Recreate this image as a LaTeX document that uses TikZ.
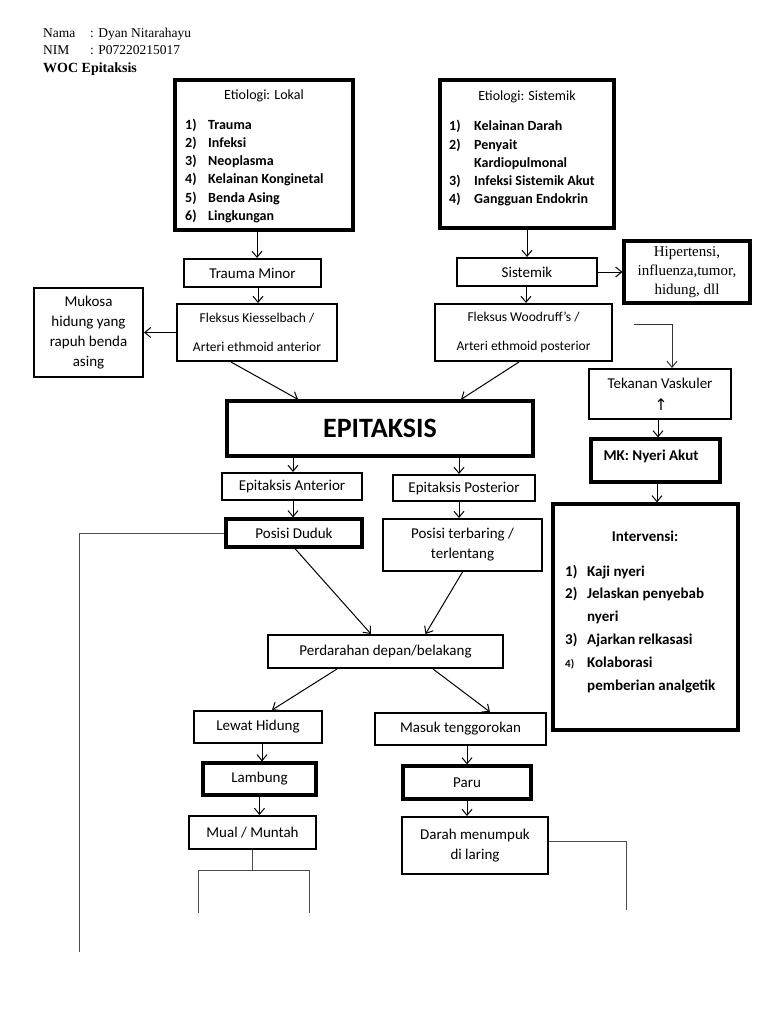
\documentclass[tikz,border=0pt]{standalone}
\usepackage{fontspec}
\setmainfont{Carlito}
\newfontfamily\tnr{Liberation Serif}
\newfontfamily\dejavu{DejaVu Sans}
\usetikzlibrary{arrows.meta,calc}
\newcommand\fsz[2]{\fontsize{#1}{#2}\selectfont}
\begin{document}
\begin{tikzpicture}[x=1pt,y=-1pt,
  box/.style={draw, line width=2pt, inner sep=0pt, align=center, font=\fsz{15}{20}},
  thickbox/.style={box, line width=3.2pt},
  arr/.style={line width=1pt, -{Straight Barb[length=6pt,width=10pt,line width=1pt]}},
  plain/.style={line width=1pt, draw=black!70},
  hdr/.style={anchor=base west, inner sep=0pt, font=\tnr\fsz{13.5}{16}},
  ttl/.style={anchor=base, inner sep=0pt, font=\fsz{14}{16}},
  num/.style={anchor=base west, inner sep=0pt, font=\bfseries\fsz{14}{16}},
  item/.style={anchor=base west, inner sep=0pt, font=\bfseries\fsz{14}{16}},
  inum/.style={anchor=base west, inner sep=0pt, font=\bfseries\fsz{15}{16}},
  iitem/.style={anchor=base west, inner sep=0pt, font=\bfseries\fsz{15}{16}},
  hipt/.style={anchor=base, inner sep=0pt, font=\tnr\fsz{15}{16}}]
\fill[white] (0,0) rectangle (768,1024);
\useasboundingbox (0,0) rectangle (768,1024);

% header
\node[hdr] (nama) at (43,38) {Nama};
\node[hdr] (namav) at (90,38) {: Dyan Nitarahayu};
\node[hdr] (nim) at (43,55) {NIM};
\node[hdr] (nimv) at (90,55) {: P07220215017};
\node[hdr, font=\tnr\bfseries\fsz{14}{16}] (woc) at (43,73) {WOC Epitaksis};

% Etiologi lokal
\node[thickbox, minimum width=178pt, minimum height=150pt] (lokal) at (264,155) {};
\node[ttl] (lokT) at (264,100) {Etiologi: Lokal};
\node[num] (l1n) at (185,130) {1)}; \node[item] (l1) at (208,130) {Trauma};
\node[num] (l2n) at (185,148) {2)}; \node[item] (l2) at (208,148) {Infeksi};
\node[num] (l3n) at (185,166) {3)}; \node[item] (l3) at (208,166) {Neoplasma};
\node[num] (l4n) at (185,184) {4)}; \node[item] (l4) at (208,184) {Kelainan Konginetal};
\node[num] (l5n) at (185,203) {5)}; \node[item] (l5) at (208,203) {Benda Asing};
\node[num] (l6n) at (185,221) {6)}; \node[item] (l6) at (208,221) {Lingkungan};

% Etiologi sistemik
\node[thickbox, minimum width=174pt, minimum height=148pt] (sist) at (527,154) {};
\node[ttl] (sisT) at (527,101) {Etiologi: Sistemik};
\node[num] (s1n) at (449,131) {1)}; \node[item] (s1) at (474,131) {Kelainan Darah};
\node[num] (s2n) at (449,150) {2)}; \node[item] (s2) at (474,150) {Penyait};
\node[item] (s2b) at (474,168) {Kardiopulmonal};
\node[num] (s3n) at (449,186) {3)}; \node[item] (s3) at (474,186) {Infeksi Sistemik Akut};
\node[num] (s4n) at (449,204) {4)}; \node[item] (s4) at (474,204) {Gangguan Endokrin};

% second row
\node[box, minimum width=137pt, minimum height=28pt] (tmin) at (252.5,273) {Trauma Minor};
\node[box, minimum width=140pt, minimum height=28pt] (sistn) at (527,272) {Sistemik};
\node[thickbox, minimum width=126pt, minimum height=62pt] (hip) at (687,272) {};
\node[hipt] (hip1) at (687,256) {Hipertensi,};
\node[hipt] (hip2) at (687,275) {influenza,tumor,};
\node[hipt] (hip3) at (687,294) {hidung, dll};

% fleksus
\node[box, minimum width=160pt, minimum height=57pt, font=\fsz{13.5}{29}] (kies) at (257,332.5) {Fleksus Kiesselbach /\\Arteri ethmoid anterior};
\node[box, minimum width=177pt, minimum height=57pt, font=\fsz{13.5}{29}] (woo) at (523.5,332.5) {Fleksus Woodruff’s /\\Arteri ethmoid posterior};
\node[box, minimum width=109pt, minimum height=89pt] (muk) at (88.5,332.5) {Mukosa\\hidung yang\\rapuh benda\\asing};

% epitaksis
\node[thickbox, minimum width=306pt, minimum height=55pt, font=\bfseries\fsz{28}{30}] (epi) at (380,428.5) {EPITAKSIS};

% right column
\node[box, minimum width=142pt, minimum height=50pt] (tek) at (660,394) {};
\node[ttl, font=\fsz{15}{16}] (tekT) at (660,388) {Tekanan Vaskuler};
\node[inner sep=0pt, font=\dejavu\fsz{16}{16}] (tekA) at (661,405) {↑};
\node[thickbox, minimum width=129pt, minimum height=43pt] (mk) at (655.5,460.5) {};
\node[ttl, font=\bfseries\fsz{15}{16}] (mkT) at (651,460) {MK: Nyeri Akut};
\node[thickbox, minimum width=185pt, minimum height=226pt] (intv) at (645.5,617) {};
\node[ttl, font=\bfseries\fsz{15}{16}] (intT) at (645,541) {Intervensi:};
\node[inum] (i1n) at (565,576.5) {1)}; \node[iitem] (i1) at (587,576.5) {Kaji nyeri};
\node[inum] (i2n) at (565,598.5) {2)}; \node[iitem] (i2) at (587,598.5) {Jelaskan penyebab};
\node[iitem] (i2b) at (587,621.5) {nyeri};
\node[inum] (i3n) at (565,644.5) {3)}; \node[iitem] (i3) at (587,644.5) {Ajarkan relkasasi};
\node[inum, font=\bfseries\fsz{11}{12}] (i4n) at (565,667.5) {4)}; \node[iitem] (i4) at (587,667.5) {Kolaborasi};
\node[iitem] (i4b) at (587,690.5) {pemberian analgetik};

% lower flow
\node[box, minimum width=140pt, minimum height=27pt] (eant) at (292,486.5) {Epitaksis Anterior};
\node[box, minimum width=142pt, minimum height=26pt] (epost) at (464,488) {Epitaksis Posterior};
\node[thickbox, minimum width=136pt, minimum height=28pt] (pd) at (294,533) {Posisi Duduk};
\node[box, minimum width=159pt, minimum height=52pt] (pt) at (462.5,545) {Posisi terbaring /\\terlentang};
\node[box, minimum width=235pt, minimum height=33pt] (perd) at (385.5,651.5) {Perdarahan depan/belakang};
\node[box, minimum width=128pt, minimum height=32pt] (lh) at (258,727) {Lewat Hidung};
\node[box, minimum width=171pt, minimum height=32pt] (mt) at (460.5,729) {Masuk tenggorokan};
\node[thickbox, minimum width=113pt, minimum height=32pt] (lam) at (259.5,779) {Lambung};
\node[box, minimum width=127pt, minimum height=33pt] (mual) at (252.5,832.5) {Mual / Muntah};
\node[thickbox, minimum width=128pt, minimum height=33pt] (paru) at (467,782.5) {Paru};
\node[box, minimum width=146pt, minimum height=57pt] (darah) at (475,845.5) {Darah menumpuk\\di laring};

% connectors
\coordinate (c1) at ([xshift=4.5pt]tmin.north);
\draw[arr] (c1 |- lokal.south) -- (c1);
\coordinate (c2) at ([xshift=5.5pt]tmin.south);
\draw[arr] (c2) -- (c2 |- kies.north);
\draw[arr] (kies.west) -- (muk.east);
\draw[arr] ([xshift=-26pt]kies.south) -- ([xshift=-82pt]epi.north);
\draw[arr] ([xshift=-4.5pt]woo.south) -- ([xshift=81pt]epi.north);
\draw[arr] (sist.south) -- (sistn.north);
\draw[arr] (sistn.east) -- (sistn.east -| hip.west);
\coordinate (c3) at ([xshift=-1pt]sistn.south);
\draw[arr] (c3) -- (c3 |- woo.north);
\coordinate (tin) at (634,324);
\coordinate (c4) at ([xshift=12pt]tek.north);
\draw[arr, draw=black!80] (tin) -- (tin -| c4) -- (c4);
\coordinate (c5) at ([xshift=-2pt]tek.south);
\draw[arr] (c5) -- (c5 |- mk.north);
\coordinate (c6) at ([xshift=1.5pt]mk.south);
\draw[arr] (c6) -- (c6 |- intv.north);
\coordinate (c7) at ([xshift=1pt]eant.north);
\draw[arr] (c7 |- epi.south) -- (c7);
\coordinate (c8) at ([xshift=-5pt]epost.north);
\draw[arr] (c8 |- epi.south) -- (c8);
\coordinate (c9) at ([xshift=1pt]eant.south);
\draw[arr] (c9) -- (c9 |- pd.north);
\coordinate (c10) at ([xshift=-5pt]epost.south);
\draw[arr] (c10) -- (c10 |- pt.north);
\draw[arr] ([xshift=1pt]pd.south) -- ([xshift=-14.5pt]perd.north);
\draw[arr] (pt.south) -- ([xshift=40pt]perd.north);
\draw[arr] ([xshift=-48.5pt]perd.south) -- ([xshift=14pt]lh.north);
\draw[arr] ([xshift=47.5pt]perd.south) -- ([xshift=29.5pt]mt.north);
\coordinate (c11) at ([xshift=4pt]lh.south);
\draw[arr] (c11) -- (c11 |- lam.north);
\draw[arr] (lam.south) -- (lam.south |- mual.north);
\draw[arr] (paru.north |- mt.south) -- (paru.north);
\draw[arr] (paru.south) -- (paru.south |- darah.north);

% plain lines
\coordinate (m1) at ([yshift=-20pt]mual.south);
\coordinate (bl) at (198,913);
\coordinate (br) at (309,913);
\draw[plain] (mual.south) -- (m1);
\draw[plain] (bl) -- (bl |- m1) -- (br |- m1) -- (br);
\coordinate (dl) at (626,910);
\coordinate (d0) at ([yshift=4.5pt]darah.east);
\draw[plain] (d0) -- (d0 -| dl) -- (dl);
\coordinate (pl) at (79,952);
\draw[plain] (pd.west) -- (pd.west -| pl) -- (pl);
\end{tikzpicture}
\end{document}
